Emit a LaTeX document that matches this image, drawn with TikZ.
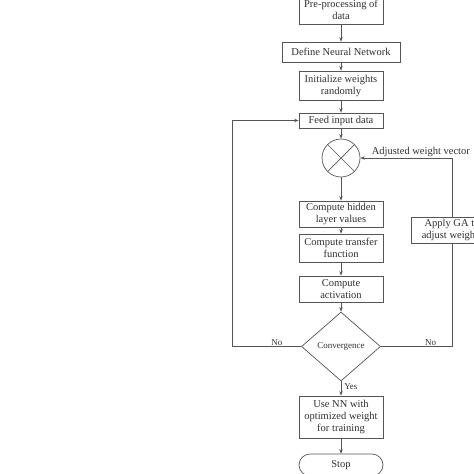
\documentclass[tikz,border=0pt]{standalone}
\usepackage{fontspec}
\setmainfont{Liberation Serif}
\usetikzlibrary{arrows.meta,positioning,calc,shapes.geometric}
\definecolor{linegray}{HTML}{555555}
\definecolor{textgray}{HTML}{303030}

\begin{document}
\begin{tikzpicture}[
    x=1pt, y=-1pt,
    proc/.style={draw=linegray, line width=0.7pt, fill=white, text=textgray, minimum width=84pt,
                 inner sep=1pt, align=center, font=\fontsize{10.5}{12}\selectfont},
    term/.style={proc, rounded corners=11pt},
    dec/.style={draw=linegray, line width=0.7pt, diamond, aspect=1.15, minimum width=79pt, minimum height=69pt,
                inner sep=0pt, text=textgray, font=\fontsize{9}{10}\selectfont},
    mult/.style={draw=linegray, line width=0.7pt, circle, minimum size=38pt, inner sep=0pt,
                 path picture={\draw[linegray, line width=0.7pt] (path picture bounding box.north west) -- (path picture bounding box.south east)
                                                  (path picture bounding box.north east) -- (path picture bounding box.south west);}},
    flow/.style={-{Stealth[length=4.5pt,width=3.5pt]}, line width=0.7pt, linegray},
    link/.style={line width=0.7pt, linegray},
    lbl/.style={text=textgray, font=\fontsize{9}{10}\selectfont, inner sep=1pt}
]
\useasboundingbox (0,0) rectangle (474,474);
\clip (0,0) rectangle (474,474);

% main column
\node[proc, minimum height=28pt] (pre) at (341, 10) {Pre-processing of\\data};
\node[proc, minimum width=118pt, minimum height=20pt] (nn) at (341, 52) {Define Neural Network};
\node[proc, minimum height=29pt] (init) at (341, 85.5) {Initialize weights\\randomly};
\node[proc, minimum height=15pt] (feed) at (341, 120.5) {Feed input data};
\node[mult] (mix) at (341, 158) {};
\node[proc, minimum height=26pt] (hidden) at (341, 214) {Compute hidden\\layer values};
\node[proc, minimum height=28pt] (transfer) at (341, 248) {Compute transfer\\function};
\node[proc, minimum height=26pt] (act) at (341, 289) {Compute\\activation};
\node[dec] (conv) at (341, 346.5) {Convergence};
\node[proc, minimum height=42pt] (use) at (341, 417) {Use NN with\\optimized weight\\for training};
\node[term, minimum height=22pt] (stop) at (341, 465) {Stop};

% GA branch
\node[proc, minimum width=82pt, minimum height=26pt] (ga) at (452, 230) {Apply GA to\\adjust weights};

% arrows
\draw[flow] (pre) -- (nn);
\draw[flow] (nn) -- (init);
\draw[flow] (init) -- (feed);
\draw[flow] (feed) -- (mix);
\draw[flow] (mix) -- (hidden);
\draw[flow] (hidden) -- (transfer);
\draw[flow] (transfer) -- (act);
\draw[flow] (act) -- (conv);
\draw[flow] (conv) -- node[lbl, right, pos=0.4, xshift=2pt] {Yes} (use);
\draw[flow] (use) -- (stop);

% feedback loops
\coordinate (lcorner) at (232, 346.5);
\draw[flow] (conv.west) -- node[lbl, above, pos=0.35] {No} (lcorner) |- (feed.west);
\coordinate (rcorner) at (452, 346.5);
\draw[link] (conv.east) -- node[lbl, above, pos=0.7] {No} (rcorner) -- (ga.south);
\draw[flow] (ga.north) |- node[lbl, above, pos=0.67, font=\fontsize{10.5}{12}\selectfont] {Adjusted weight vector} (mix.east);

\end{tikzpicture}
\end{document}
